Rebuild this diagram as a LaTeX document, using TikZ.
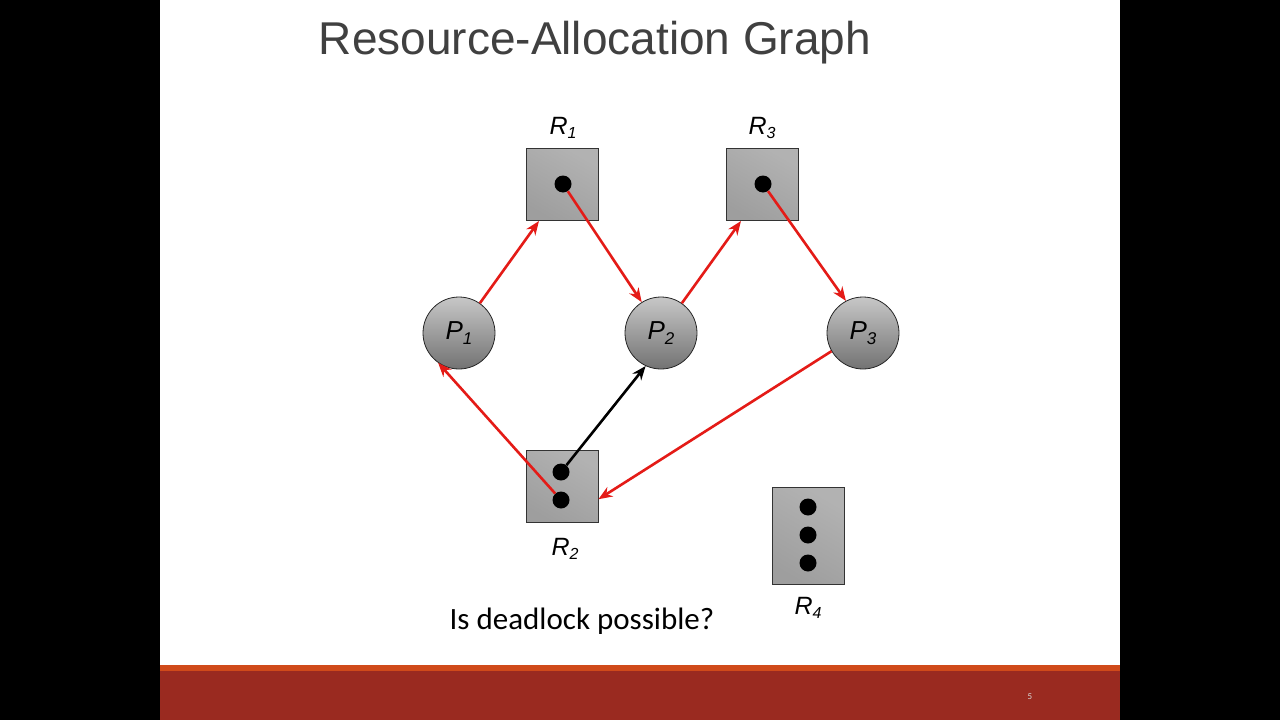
\documentclass[tikz,border=0pt]{standalone}
\usepackage{fontspec}
\setmainfont{Liberation Sans}
\newfontfamily\calib{Carlito}
\usetikzlibrary{arrows.meta}
\definecolor{redA}{HTML}{E41B17}
\definecolor{barA}{HTML}{9A2A20}
\definecolor{barB}{HTML}{D04A1A}
\tikzset{
 resbox/.style={draw=black!80,line width=0.8pt,minimum width=72pt,minimum height=72pt,inner sep=0pt,shading=axis,top color=black!30,bottom color=black!38,shading angle=-30},
 proc/.style={circle,draw=black!85,line width=0.8pt,minimum size=72pt,inner sep=0pt,top color=black!22,bottom color=black!55,font=\fontsize{26pt}{28pt}\selectfont\itshape},
 tok/.style={circle,fill=black,minimum size=17pt,inner sep=0pt},
 lab/.style={font=\fontsize{25pt}{27pt}\selectfont\itshape},
 redarr/.style={draw=redA,line width=2.6pt,-{Stealth[length=14pt,width=11pt]}},
 blkarr/.style={draw=black,line width=2.6pt,-{Stealth[length=14pt,width=11pt]}}
}
\begin{document}
\begin{tikzpicture}[x=1pt,y=-1pt]
\useasboundingbox (0,0) rectangle (1280,720);
\fill[black] (0,0) rectangle (1280,720);
\fill[white] (160,0) rectangle (1120,665);
\fill[barB] (160,665) rectangle (1120,671);
\fill[barA] (160,671) rectangle (1120,720);
\node[text=white!85!black,font=\fontsize{9pt}{10pt}\selectfont\calib] (pg) at (1030,697) {5};
\node[text=black!75,font=\fontsize{46pt}{50pt}\selectfont] (title) at (595,43) {Resource-Allocation Graph};
\node[resbox] (r1) at (562,184) {};
\node[resbox] (r3) at (762,184) {};
\node[resbox] (r2) at (562,486) {};
\node[resbox,minimum height=97pt] (r4) at (808,535.5) {};
\node[tok] (d1) at (563,184) {};
\node[tok] (d3) at (763,184) {};
\node[tok] (d2a) at (561,472) {};
\node[tok] (d2b) at (561,500) {};
\node[tok] (d4a) at (808,507) {};
\node[tok] (d4b) at (808,535) {};
\node[tok] (d4c) at (808,563) {};
\node[proc] (p1) at (459,333) {P\raisebox{-0.35ex}{\fontsize{17pt}{18pt}\selectfont 1}};
\node[proc] (p2) at (661,333) {P\raisebox{-0.35ex}{\fontsize{17pt}{18pt}\selectfont 2}};
\node[proc] (p3) at (863,333) {P\raisebox{-0.35ex}{\fontsize{17pt}{18pt}\selectfont 3}};
\node[lab] (l1) at (563,128) {R\raisebox{-0.35ex}{\fontsize{16pt}{17pt}\selectfont 1}};
\node[lab] (l3) at (762,128) {R\raisebox{-0.35ex}{\fontsize{16pt}{17pt}\selectfont 3}};
\node[lab] (l2) at (565,549) {R\raisebox{-0.35ex}{\fontsize{16pt}{17pt}\selectfont 2}};
\node[lab] (l4) at (808,608) {R\raisebox{-0.35ex}{\fontsize{16pt}{17pt}\selectfont 4}};
\node[font=\fontsize{31pt}{33pt}\selectfont\calib] (q) at (582,621) {Is deadlock possible?};
\draw[redarr] (p1.55) -- (539,221);
\draw[redarr] (d1) -- (p2.122);
\draw[redarr] (p2.55) -- (741,221);
\draw[redarr] (d3) -- (p3.118);
\draw[redarr] (p3.-150) -- (r2.-20);
\draw[redarr] (d2b) -- (p1.-125);
\draw[blkarr] (d2a) -- (p2.-115);
\end{tikzpicture}
\end{document}
